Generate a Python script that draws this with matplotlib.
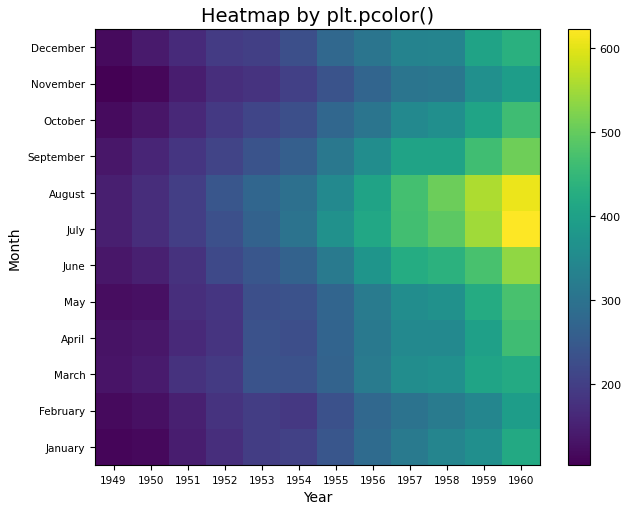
import matplotlib
matplotlib.use("Agg")
import matplotlib.pyplot as plt
import numpy as np

years = [str(y) for y in range(1949, 1961)]
months = ["January","February","March","April","May","June","July","August",
          "September","October","November","December"]
p1949 = [112,118,132,129,121,135,148,148,136,119,104,118]
p1950 = [115,126,141,135,125,149,170,170,158,133,114,140]
p1951 = [145,150,178,163,172,178,199,199,184,162,146,166]
p1952 = [171,180,193,181,183,218,230,242,209,191,172,194]
p1953 = [196,196,236,235,229,243,264,272,237,211,180,201]
p1954 = [204,188,235,227,234,264,302,293,259,229,203,229]
p1955 = [242,233,267,269,270,315,364,347,312,274,237,278]
p1956 = [284,277,317,313,318,374,413,405,355,306,271,306]
p1957 = [315,301,356,348,355,422,465,467,404,347,305,336]
p1958 = [340,318,362,348,363,435,491,505,404,359,310,337]
p1959 = [360,342,406,396,420,472,548,559,463,407,362,405]
p1960 = [417,391,419,461,472,535,622,606,508,461,390,432]
data = np.array([p1949,p1950,p1951,p1952,p1953,p1954,p1955,p1956,p1957,p1958,p1959,p1960]).T

fig = plt.figure(figsize=(6.26, 5.1), dpi=100)
ax = fig.add_axes([95/626, 1-466/510, 445/626, 436/510])
cax = fig.add_axes([568/626, 1-466/510, 22/626, 436/510])
pc = ax.pcolor(data, cmap="viridis")
cb = fig.colorbar(pc, cax=cax)
cb.set_ticks([200, 300, 400, 500, 600])
cb.ax.tick_params(labelsize=8)
cb.outline.set_visible(True)
ax.set_xticks(np.arange(12) + 0.5)
ax.set_xticklabels(years, fontsize=7.5)
ax.set_yticks(np.arange(12) + 0.5)
ax.set_yticklabels(months, fontsize=7.5)
ax.set_xlabel("Year", fontsize=10)
ax.set_ylabel("Month", fontsize=10)
ax.set_title("Heatmap by plt.pcolor()", fontsize=14)
fig.savefig("out.png", dpi=100)
